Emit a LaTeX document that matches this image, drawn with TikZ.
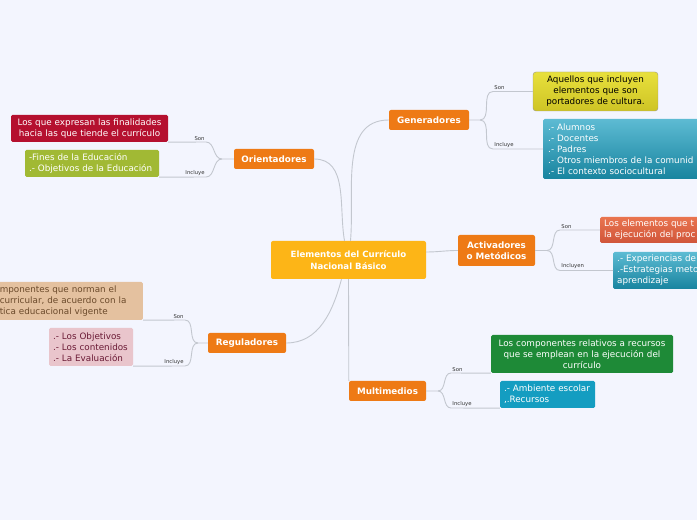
\documentclass[tikz,border=0pt]{standalone}
\usepackage{fontspec}
\setmainfont{DejaVu Sans}

\definecolor{bgblue}{HTML}{F3F5FE}
\definecolor{linkgray}{HTML}{C3C7CF}
\definecolor{lblgray}{HTML}{333333}
\definecolor{centeryellow}{HTML}{FDB517}
\definecolor{branchorange}{HTML}{EE7A15}
\definecolor{redleaf}{HTML}{B5102F}
\definecolor{greenleaf}{HTML}{A1B934}
\definecolor{yellowtop}{HTML}{E8E03C}
\definecolor{yellowbot}{HTML}{CEC425}
\definecolor{yellowedge}{HTML}{9C9A80}
\definecolor{tealtop}{HTML}{5DBBD3}
\definecolor{tealbot}{HTML}{18849F}
\definecolor{salmontop}{HTML}{E9744F}
\definecolor{salmonbot}{HTML}{D0553A}
\definecolor{tanleaf}{HTML}{E4C19F}
\definecolor{tantext}{HTML}{6B4A2B}
\definecolor{pinkleaf}{HTML}{E9C5CC}
\definecolor{pinktext}{HTML}{6A1A35}
\definecolor{darkgreen}{HTML}{1E8A37}
\definecolor{blueleaf}{HTML}{149DC1}

\begin{document}
\begin{tikzpicture}[x=1pt,y=1pt,
	link/.style={draw=linkgray,line width=0.9pt},
	lbl/.style={font=\fontsize{5.3}{6}\selectfont,text=lblgray,inner sep=1pt},
	cenbox/.style={fill=centeryellow,rounded corners=2pt,text=white,font=\fontsize{8.6}{12}\selectfont\bfseries,align=center,inner sep=0pt},
	branch/.style={fill=branchorange,rounded corners=2pt,text=white,font=\fontsize{8.8}{11}\selectfont\bfseries,align=center,inner sep=0pt,minimum height=20pt},
	leaf/.style={rounded corners=1.5pt,text=white,font=\fontsize{8.8}{11}\selectfont,inner sep=0pt},
	tealshade/.style={top color=tealtop,bottom color=tealbot}]

	%Background
	\fill [bgblue] (0,0) rectangle (697,520);
	\useasboundingbox (0,0) rectangle (697,520);
	\clip (0,0) rectangle (697,520);

	%Central topic
	\node [cenbox,minimum width=155pt,minimum height=38pt] (cen) at (348.5,260) {Elementos del Currículo\\Nacional Básico};

	%Main branches
	\node [branch,minimum width=80pt] (ori) at (274,361) {Orientadores};
	\node [branch,minimum width=80pt] (gen) at (429,400) {Generadores};
	\node [branch,minimum width=77pt,minimum height=31pt] (act) at (496.5,269.5) {Activadores\\o Metódicos};
	\node [branch,minimum width=78pt] (reg) at (247,177) {Reguladores};
	\node [branch,minimum width=77pt] (mul) at (387.5,129) {Multimedios};

	\draw [link] (ori.east) to [out=0,in=100] ([xshift=-4pt]cen.north);
	\draw [link] ([xshift=2pt]cen.north) to [out=85,in=180] (gen.west);
	\draw [link] ([yshift=8pt]cen.east) to [out=0,in=180] (act.west);
	\draw [link] ([xshift=-7pt]cen.south) to [out=255,in=0] (reg.east);
	\draw [link] (cen.south) -- (mul.north west);

	%Orientadores
	\node [leaf,fill=redleaf,text width=157pt,minimum height=27pt,align=center] (oriSon) at (89.5,391.5) {Los que expresan las finalidades\\hacia las que tiende el currículo};
	\node [leaf,fill=greenleaf,text width=126pt,inner xsep=4pt,minimum height=27pt,align=left] (oriInc) at (92,356.5) {-Fines de la Educación\\.- Objetivos de la Educación};
	\coordinate (oriFork) at (222,361);
	\coordinate (oriSonBend) at (206,378);
	\coordinate (oriIncBend) at (206,343);
	\draw [link] (ori.west) -- (oriFork) to [out=180,in=0] (oriSonBend) -- node [lbl,above left,pos=0] (oriSonLbl) {Son} (oriSon.south east);
	\draw [link] (oriFork) to [out=180,in=0] (oriIncBend) -- node [lbl,above left,pos=0] (oriIncLbl) {Incluye} (oriInc.south east);

	%Generadores
	\node [leaf,top color=yellowtop,bottom color=yellowbot,draw=yellowedge,rounded corners=3pt,text=black,text width=125pt,minimum height=39pt,align=center] (genSon) at (595.5,428.5) {Aquellos que incluyen\\elementos que son\\portadores de cultura.};
	\node [leaf,tealshade,anchor=west,inner xsep=5pt,text width=170pt,minimum height=60pt,align=left] (genInc) at (543,371) {.- Alumnos\\.- Docentes\\.- Padres\\.- Otros miembros de la comunid\\.- El contexto sociocultural};
	\coordinate (genFork) at (480,400);
	\coordinate (genSonBend) at (493,428.5);
	\coordinate (genIncBend) at (493,371);
	\draw [link] (gen.east) -- (genFork) to [out=0,in=180] (genSonBend) -- node [lbl,above right,pos=0] (genSonLbl) {Son} (genSon.west);
	\draw [link] (genFork) to [out=0,in=180] (genIncBend) -- node [lbl,above right,pos=0] (genIncLbl) {Incluye} (genInc.west);

	%Activadores o Metodicos
	\node [leaf,top color=salmontop,bottom color=salmonbot,anchor=west,inner xsep=4pt,text width=120pt,minimum height=26pt,align=left] (actSon) at (600,290) {Los elementos que t\\la ejecución del proc};
	\node [leaf,tealshade,anchor=west,inner xsep=4pt,text width=120pt,minimum height=37pt,align=left] (actInc) at (613,249.5) {.- Experiencias de\\.-Estrategias meto\\aprendizaje};
	\coordinate (actFork) at (547,269.5);
	\coordinate (actSonBend) at (560,290);
	\coordinate (actIncBend) at (560,249.5);
	\draw [link] (act.east) -- (actFork) to [out=0,in=180] (actSonBend) -- node [lbl,above right,pos=0] (actSonLbl) {Son} (actSon.west);
	\draw [link] (actFork) to [out=0,in=180] (actIncBend) -- node [lbl,above right,pos=0] (actIncLbl) {Incluyen} (actInc.west);

	%Reguladores
	\node [leaf,fill=tanleaf,text=tantext,anchor=east,inner xsep=2pt,text width=141pt,minimum height=38pt,align=left] (regSon) at (143,219) {mponentes que norman el\\curricular, de acuerdo con la\\tica educacional vigente};
	\node [leaf,fill=pinkleaf,text=pinktext,inner xsep=4pt,text width=76pt,minimum height=38pt,align=left] (regInc) at (91,173) {.- Los Objetivos\\.- Los contenidos\\.- La Evaluación};
	\coordinate (regFork) at (198,177);
	\coordinate (regSonBend) at (185,200);
	\coordinate (regIncBend) at (185,154);
	\draw [link] (reg.west) -- (regFork) to [out=180,in=0] (regSonBend) -- node [lbl,above left,pos=0] (regSonLbl) {Son} (regSon.south east);
	\draw [link] (regFork) to [out=180,in=0] (regIncBend) -- node [lbl,above left,pos=0] (regIncLbl) {Incluye} (regInc.south east);

	%Multimedios
	\node [leaf,fill=darkgreen,text width=182pt,minimum height=38pt,align=center] (mulSon) at (582,166) {Los componentes relativos a recursos\\que se emplean en la ejecución del\\currículo};
	\node [leaf,fill=blueleaf,inner xsep=4pt,text width=87pt,minimum height=27pt,align=left] (mulInc) at (547.5,125.5) {.- Ambiente escolar\\,.Recursos};
	\coordinate (mulFork) at (438,129);
	\coordinate (mulSonBend) at (451,147);
	\coordinate (mulIncBend) at (451,112);
	\draw [link] (mul.east) -- (mulFork) to [out=0,in=180] (mulSonBend) -- node [lbl,above right,pos=0] (mulSonLbl) {Son} (mulSon.south west);
	\draw [link] (mulFork) to [out=0,in=180] (mulIncBend) -- node [lbl,above right,pos=0] (mulIncLbl) {Incluye} (mulInc.south west);
\end{tikzpicture}
\end{document}
